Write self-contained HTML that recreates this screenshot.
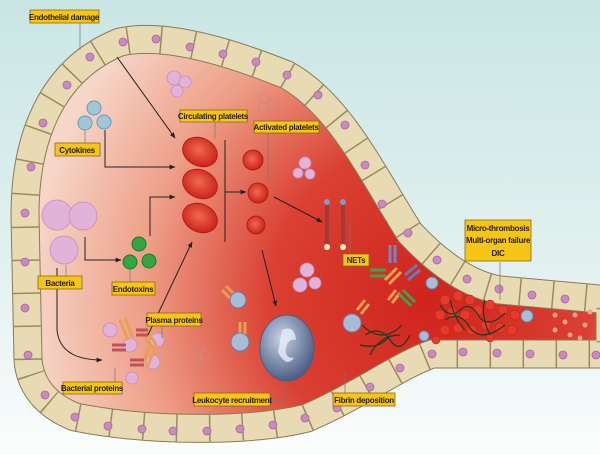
<!DOCTYPE html>
<html><head><meta charset="utf-8"><style>
html,body{margin:0;padding:0;width:600px;height:455px;overflow:hidden;background:#fff}
svg{display:block}
text{font-family:"Liberation Sans",sans-serif;font-size:8px;font-weight:bold;fill:#2a2010;letter-spacing:-0.3px}
</style></head><body>
<svg width="600" height="455" viewBox="0 0 600 455" xmlns="http://www.w3.org/2000/svg">
<defs>
<linearGradient id="bg" x1="0" y1="0" x2="0" y2="1">
<stop offset="0" stop-color="#c9e6e4"/><stop offset="0.6" stop-color="#e3f1f0"/><stop offset="1" stop-color="#fbfdfd"/></linearGradient>
<radialGradient id="lum" cx="430" cy="300" r="400" gradientUnits="userSpaceOnUse">
<stop offset="0" stop-color="#cf241d"/><stop offset="0.4" stop-color="#da4032"/><stop offset="0.72" stop-color="#ee9f88"/><stop offset="1" stop-color="#f6d6c8"/></radialGradient>
<radialGradient id="plt" cx="0.45" cy="0.45" r="0.6"><stop offset="0" stop-color="#f06a50"/><stop offset="1" stop-color="#c81e14"/></radialGradient>
<radialGradient id="leu" cx="0.4" cy="0.35" r="0.65"><stop offset="0" stop-color="#c8d2e6"/><stop offset="1" stop-color="#4d5f86"/></radialGradient>
<marker id="ar" viewBox="0 0 10 10" refX="9" refY="5" markerWidth="6" markerHeight="6" orient="auto"><path d="M0,1 L10,5 L0,9 z" fill="#222"/></marker>
<path id="mp" d="M 28,360 L 25,215 C 25,140 50,70 120,42 C 160,33 220,48 287,75 C 340,105 370,170 410,233 C 440,265 470,285 500,290 L 610,300 L 610,354 L 432,354 C 400,365 360,395 307,418 C 250,432 150,432 75,417 C 45,405 30,385 28,360 Z"/>
</defs>
<rect width="600" height="455" fill="url(#bg)"/>
<use href="#mp" fill="url(#lum)" stroke="#8a7a55" stroke-width="29"/>
<use href="#mp" fill="none" stroke="#e8dbb3" stroke-width="27"/>
<use href="#mp" fill="none" stroke="#9a8a62" stroke-width="27" stroke-dasharray="1.5 31.5"/>
<g fill="#c98ac0" stroke="#a9679f" stroke-width="0.8">
<circle cx="90" cy="57" r="4"/><circle cx="123" cy="42" r="4"/><circle cx="156" cy="39" r="4"/><circle cx="190" cy="47" r="4"/><circle cx="223" cy="54" r="4"/><circle cx="256" cy="62" r="4"/><circle cx="287" cy="75" r="4"/><circle cx="318" cy="95" r="4"/><circle cx="345" cy="125" r="4"/><circle cx="365" cy="165" r="4"/><circle cx="382" cy="204" r="4"/><circle cx="408" cy="233" r="4"/><circle cx="437" cy="260" r="4"/><circle cx="467" cy="279" r="4"/><circle cx="499" cy="289" r="4"/><circle cx="532" cy="295" r="4"/><circle cx="565" cy="299" r="4"/>
<circle cx="67" cy="85" r="4"/><circle cx="43" cy="123" r="4"/><circle cx="31" cy="167" r="4"/><circle cx="25" cy="213" r="4"/><circle cx="25" cy="262" r="4"/><circle cx="25" cy="308" r="4"/><circle cx="28" cy="355" r="4"/><circle cx="45" cy="395" r="4"/><circle cx="75" cy="417" r="4"/><circle cx="108" cy="426" r="4"/><circle cx="142" cy="429" r="4"/><circle cx="173" cy="431" r="4"/><circle cx="207" cy="431" r="4"/><circle cx="240" cy="429" r="4"/><circle cx="273" cy="425" r="4"/><circle cx="305" cy="418" r="4"/><circle cx="337" cy="408" r="4"/><circle cx="370" cy="387" r="4"/><circle cx="400" cy="368" r="4"/><circle cx="432" cy="354" r="4"/><circle cx="463" cy="352" r="4"/><circle cx="497" cy="353" r="4"/><circle cx="530" cy="354" r="4"/><circle cx="563" cy="355" r="4"/><circle cx="596" cy="355" r="4"/>
</g>
<g fill="#e2b3d8" stroke="#c48cbc" stroke-width="0.8">
<circle cx="174" cy="78" r="7"/><circle cx="185" cy="82" r="6"/><circle cx="177" cy="91" r="6"/>
<circle cx="305" cy="163" r="6"/><circle cx="298" cy="173" r="5"/><circle cx="310" cy="174" r="5"/>
<circle cx="307" cy="270" r="7"/><circle cx="300" cy="285" r="7"/><circle cx="315" cy="283" r="6"/>
<circle cx="57" cy="215" r="15"/><circle cx="83" cy="216" r="14"/><circle cx="64" cy="250" r="14"/>
<circle cx="110" cy="330" r="7"/><circle cx="130" cy="345" r="7"/><circle cx="157" cy="340" r="7"/><circle cx="153" cy="362" r="7"/><circle cx="132" cy="378" r="6"/>
</g>
<g fill="none" stroke="#c98a80" stroke-width="0.8"><circle cx="264" cy="98" r="5"/><circle cx="272" cy="104" r="5"/><circle cx="263" cy="107" r="5"/>
<circle cx="199" cy="346" r="5"/><circle cx="205" cy="355" r="5"/><circle cx="196" cy="358" r="5"/></g>
<g fill="#9fc7d8" stroke="#6d98b5"><circle cx="94" cy="108" r="7"/><circle cx="85" cy="123" r="7"/><circle cx="104" cy="122" r="7"/></g>
<g fill="#34a540" stroke="#1e7b2a"><circle cx="139" cy="244" r="7"/><circle cx="130" cy="262" r="7"/><circle cx="149" cy="261" r="7"/></g>
<g fill="url(#plt)" stroke="#a71810" stroke-width="0.8">
<ellipse cx="200" cy="152" rx="18" ry="14" transform="rotate(25 200 152)"/>
<ellipse cx="200" cy="184" rx="18" ry="14" transform="rotate(25 200 184)"/>
<ellipse cx="200" cy="218" rx="18" ry="14" transform="rotate(25 200 218)"/>
<circle cx="253" cy="160" r="10"/><circle cx="258" cy="193" r="10"/><circle cx="256" cy="225" r="9"/>
</g>
<rect x="325" y="205" width="4" height="40" fill="#a33a3a"/><rect x="341" y="205" width="4" height="40" fill="#a33a3a"/>
<circle cx="327" cy="247" r="3" fill="#fff3b0"/><circle cx="343" cy="247" r="3" fill="#fff3b0"/>
<circle cx="327" cy="202" r="3" fill="#7a9ad0"/><circle cx="343" cy="202" r="3" fill="#7a9ad0"/>
<g stroke-width="3"><path d="M390,245 v18 M395,245 v18" stroke="#7a84c0"/><path d="M370,270 h16 M370,276 h16" stroke="#3da34a"/><path d="M385,280 l12,-12 M389,284 l12,-12" stroke="#ef9f50"/><path d="M405,275 l12,-10 M408,280 l12,-10" stroke="#6a7ab8"/><path d="M388,300 l8,-10 M392,303 l8,-10" stroke="#ef9f50"/><path d="M403,290 l12,12 M399,294 l12,12" stroke="#3da34a"/>
<path d="M120,320 l8,20 M125,318 l8,20 M140,330 l12,18 M145,328 l12,18 M150,345 l-8,20 M155,348 l-8,20" stroke="#eaa050"/>
<path d="M112,345 h14 M112,350 h14 M130,360 h14 M130,365 h14 M136,330 h12 M136,335 h12" stroke="#c05060"/>
<path d="M222,290 l10,10 M226,286 l10,10 M240,322 v12 M245,322 v12 M357,310 l8,-10 M361,314 l8,-10" stroke="#e7a050"/></g>
<g fill="#a8bcd8" stroke="#6a7ea8"><circle cx="238" cy="300" r="8"/><circle cx="240" cy="342" r="9"/><circle cx="352" cy="323" r="9"/><circle cx="432" cy="283" r="6"/><circle cx="424" cy="336" r="5"/><circle cx="527" cy="316" r="6"/></g>
<ellipse cx="287" cy="348" rx="27" ry="33" fill="url(#leu)" stroke="#4b5c80"/>
<path d="M282,330 q12,-6 14,10 q-8,-2 -10,8 q-2,10 8,10 q-8,10 -16,-6 z" fill="#e8eef8" opacity="0.8"/>
<g fill="#e83a2a" stroke="#b01f15" stroke-width="0.5">
<circle cx="445" cy="300" r="5"/><circle cx="458" cy="296" r="5"/><circle cx="470" cy="300" r="5"/><circle cx="440" cy="315" r="5"/><circle cx="452" cy="312" r="5"/><circle cx="465" cy="315" r="5"/><circle cx="478" cy="310" r="5"/><circle cx="490" cy="305" r="5"/><circle cx="503" cy="310" r="5"/><circle cx="515" cy="315" r="5"/><circle cx="445" cy="330" r="5"/><circle cx="458" cy="328" r="5"/><circle cx="472" cy="330" r="5"/><circle cx="486" cy="325" r="5"/><circle cx="500" cy="328" r="5"/><circle cx="512" cy="330" r="5"/><circle cx="436" cy="340" r="4"/><circle cx="490" cy="338" r="4"/></g>
<g fill="#f4a090"><circle cx="555" cy="315" r="2.5"/><circle cx="565" cy="322" r="2.5"/><circle cx="575" cy="315" r="2.5"/><circle cx="585" cy="325" r="2.5"/><circle cx="555" cy="330" r="2.5"/><circle cx="570" cy="335" r="2.5"/><circle cx="590" cy="312" r="2.5"/><circle cx="580" cy="338" r="2.5"/></g>
<g fill="none" stroke="#1f3a20" stroke-width="1.2"><path d="M440,305 q10,15 20,5 q10,-10 20,8 q10,10 25,-5 M445,320 q15,-10 25,8 q12,15 35,-3 M450,300 q5,20 15,30 M485,300 q-5,15 5,35 M365,335 q15,-10 25,5 q10,15 20,-5 M360,345 q20,5 30,-10 M370,355 q10,-20 30,-20 M362,325 q20,20 40,0"/></g>
<g stroke="#222" stroke-width="1" fill="none">
<path d="M117,57 L175,138" marker-end="url(#ar)"/>
<path d="M105,130 V167 H175" marker-end="url(#ar)"/>
<path d="M150,236 V197 H175" marker-end="url(#ar)"/>
<path d="M85,237 V260 H121" marker-end="url(#ar)"/>
<path d="M57,268 V330 Q60,360 102,360" marker-end="url(#ar)"/>
<path d="M148,335 L192,242" marker-end="url(#ar)"/>
<path d="M225,140 V242 M225,192 H245" />
<path d="M245,192 L246,192" marker-end="url(#ar)"/>
<path d="M274,197 L322,222" marker-end="url(#ar)"/>
<path d="M262,250 L276,306" marker-end="url(#ar)"/>
</g>
<g stroke="#777" stroke-width="0.7" fill="none"><path d="M80,22 V50 M85,143 V130 M215,122 V138 M268,133 V180 M350,253 V220 M66,277 V265 M130,282 V270 M162,313 V338 M115,382 V368 M270,400 H285 V381 M333,400 H345 V370 M500,262 V300"/></g>
<g fill="#f5c518" stroke="#8a6a10" stroke-width="0.8">
<rect x="30" y="10" width="69" height="13"/><rect x="55" y="143" width="45" height="13"/><rect x="180" y="110" width="67" height="12"/><rect x="254" y="121" width="65" height="12"/><rect x="38" y="276" width="44" height="13"/><rect x="112" y="282" width="43" height="13"/><rect x="147" y="313" width="54" height="13"/><rect x="63" y="382" width="59" height="12"/><rect x="343" y="254" width="26" height="12"/><rect x="465" y="220" width="66" height="41"/><rect x="194" y="393" width="76" height="13"/><rect x="333" y="393" width="62" height="13"/>
</g>
<text x="64" y="20" text-anchor="middle">Endothelial damage</text>
<text x="77" y="153" text-anchor="middle">Cytokines</text>
<text x="213" y="119" text-anchor="middle">Circulating platelets</text>
<text x="286" y="130" text-anchor="middle">Activated platelets</text>
<text x="60" y="286" text-anchor="middle">Bacteria</text>
<text x="133" y="292" text-anchor="middle">Endotoxins</text>
<text x="174" y="323" text-anchor="middle">Plasma proteins</text>
<text x="92" y="391" text-anchor="middle">Bacterial proteins</text>
<text x="356" y="263" text-anchor="middle">NETs</text>
<text x="498" y="231" text-anchor="middle">Micro-thrombosis</text>
<text x="498" y="243" text-anchor="middle">Multi-organ failure</text>
<text x="498" y="256" text-anchor="middle" font-size="9">DIC</text>
<text x="232" y="403" text-anchor="middle">Leukocyte recruitment</text>
<text x="364" y="403" text-anchor="middle">Fibrin deposition</text>
</svg>
</body></html>
